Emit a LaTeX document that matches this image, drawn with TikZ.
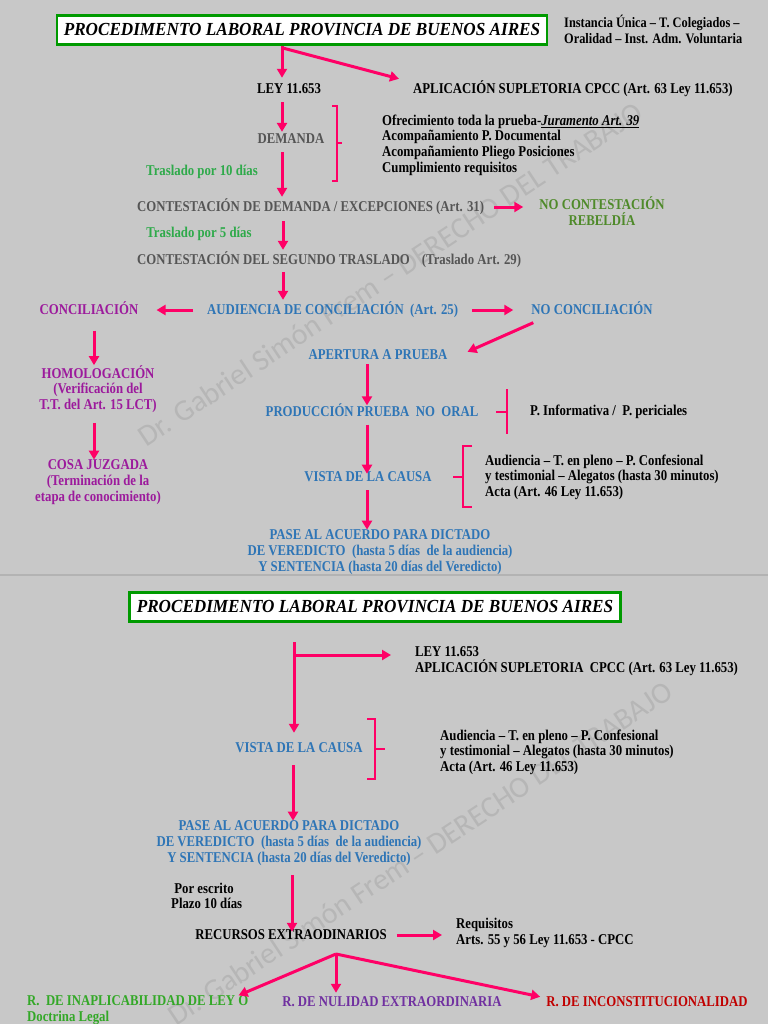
\documentclass[tikz,border=0pt]{standalone}
\usepackage{fontspec}
\setmainfont{Liberation Serif}[FakeStretch=0.855]
\newfontfamily\titlefont{Liberation Serif}[FakeStretch=0.93]
\setsansfont{Carlito}
\usepackage{tikz}
\usetikzlibrary{arrows.meta,positioning,calc}

\definecolor{slidebg}{HTML}{C8C8C8}
\definecolor{arrowpink}{HTML}{FF0066}
\definecolor{boxgreen}{HTML}{009A00}
\definecolor{stepblue}{HTML}{2E75B6}
\definecolor{steppurple}{HTML}{9C1A9C}
\definecolor{stepgray}{HTML}{555555}
\definecolor{daysgreen}{HTML}{2EAA4A}
\definecolor{rebelgreen}{HTML}{4F8A2A}
\definecolor{inapgreen}{HTML}{33A827}
\definecolor{nulpurple}{HTML}{7030A0}
\definecolor{incred}{HTML}{C00000}
\definecolor{wmgray}{HTML}{B6B6B6}
\definecolor{seprule}{HTML}{B3B3B3}

\begin{document}
\begin{tikzpicture}[x=1bp, y=-1bp, >={Triangle[length=9bp,width=10bp]},
  every node/.style={inner sep=2bp, font=\bfseries\fontsize{15}{15.7}\selectfont},
  titlebox/.style={draw=boxgreen, line width=2.6bp, fill=white, minimum width=490bp,
    minimum height=29bp, font=\titlefont\bfseries\itshape\fontsize{18.5}{21}\selectfont},
  flow/.style={->, draw=arrowpink, line width=3bp},
  brk/.style={draw=arrowpink, line width=2.6bp},
  gry/.style={text=stepgray}, blu/.style={text=stepblue},
  pur/.style={text=steppurple}, days/.style={text=daysgreen},
  wmark/.style={text=wmgray, font=\sffamily\fontsize{30}{32}\selectfont, rotate=33.5}]

% ---------------- 1. BACKGROUND ----------------
\fill[slidebg] (0,0) rectangle (768,1024);
\useasboundingbox (0,0) rectangle (768,1024);
\draw[seprule, line width=1.5bp] (0,575) -- (768,575);

% watermarks
\node[wmark] (wm1) at (390,274) {Dr. Gabriel Simón Frem -- DERECHO DEL TRABAJO};
\node[wmark] (wm2) at (420,853) {Dr. Gabriel Simón Frem -- DERECHO DEL TRABAJO};

% ---------------- 2. UPPER SLIDE: MAIN LINE ----------------
\coordinate (spine) at (282,0);
\coordinate (spineb) at (367,0);
\coordinate (spinel) at (94,0);

\node[titlebox] (title1) at (302,30) {PROCEDIMENTO LABORAL PROVINCIA DE BUENOS AIRES};
\node[anchor=west, align=left, font=\bfseries\fontsize{14.5}{16}\selectfont] (inst) at (562,29)
  {Instancia Única -- T. Colegiados --\\Oralidad -- Inst. Adm. Voluntaria};

\node (ley1) at (289,89) {LEY 11.653};
\node[anchor=west] (apl1) at (411,89) {APLICACIÓN SUPLETORIA CPCC (Art. 63 Ley 11.653)};
\draw[flow] (title1.south -| spine) -- ([yshift=4bp]ley1.north -| spine);
\draw[flow] ([yshift=-2bp]title1.south -| spine) -- ([xshift=-12bp]apl1.north west);

\node[gry] (dem1) at (291,139) {DEMANDA};
\draw[flow, shorten <=6bp] (ley1.south -| spine) -- (dem1.north -| spine);

% bracket of the demand
\draw[brk] (332,106) -- (337,106) -- (337,181) -- (332,181);
\draw[brk] (337,143) -- (342,143);
\node[anchor=west, align=left] (ofr) at (380,145)
  {Ofrecimiento toda la prueba-\underline{\textit{Juramento Art. 39}}\\
   Acompañamiento P. Documental\\
   Acompañamiento Pliego Posiciones\\
   Cumplimiento requisitos};

\node[days] (tras10) at (202,172) {Traslado por 10 días};
\node[gry, anchor=west] (cont1) at (135,207) {CONTESTACIÓN DE DEMANDA / EXCEPCIONES (Art. 31)};
\draw[flow, shorten <=6bp] (dem1.south -| spine) -- (cont1.north -| spine);

\node[text=rebelgreen, align=center] (rebel) at (602,211) {NO CONTESTACIÓN\\REBELDÍA};
\draw[flow, shorten <=8bp, shorten >=14bp] (cont1.east) -- (cont1.east -| rebel.west);

\node[days] (tras5) at (199,234) {Traslado por 5 días};
\node[gry, anchor=west] (cont2) at (135,260) {CONTESTACIÓN DEL SEGUNDO TRASLADO\hspace{12bp}(Traslado Art. 29)};
\draw[flow, shorten <=4bp] ([xshift=1bp]cont1.south -| spine) -- ([xshift=1bp]cont2.north -| spine);

% ---------------- 3. CONCILIATION ----------------
\node[blu, anchor=west] (aud) at (205,310) {AUDIENCIA DE CONCILIACIÓN\ \ (Art. 25)};
\draw[flow, shorten <=2bp] ([xshift=1bp]cont2.south -| spine) -- ([xshift=1bp]aud.north -| spine);

\node[pur] (conc) at (89,308) {CONCILIACIÓN};
\draw[flow, shorten <=12bp, shorten >=16bp] (aud.west) -- (aud.west -| conc.east);

\node[blu] (noconc) at (592,308) {NO CONCILIACIÓN};
\draw[flow, shorten <=12bp, shorten >=16bp] (aud.east) -- (aud.east -| noconc.west);

\node[blu] (apert) at (378,355) {APERTURA A PRUEBA};
\draw[flow] ([xshift=4bp,yshift=-6bp]noconc.south west) -- ([xshift=18bp,yshift=-4bp]apert.north east);

\node[pur, align=center] (homol) at (98,389) {HOMOLOGACIÓN\\(Verificación del\\T.T. del Art. 15 LCT)};
\draw[flow, shorten <=14bp] (conc.south -| spinel) -- ([yshift=-2bp]homol.north -| spinel);

\node[pur, align=center] (cosa) at (98,482) {COSA JUZGADA\\(Terminación de la\\etapa de conocimiento)};
\draw[flow, shorten <=8bp] (homol.south -| spinel) -- ([yshift=-2bp]cosa.north -| spinel);

% ---------------- 4. PROOF AND HEARING ----------------
\node[blu] (prod) at (372,410) {PRODUCCIÓN PRUEBA\ \ NO\ \ ORAL};
\draw[flow, shorten <=2bp] (apert.south -| spineb) -- ([yshift=-4bp]prod.north -| spineb);

\draw[brk] (507,389) -- (507,434);
\draw[brk] (507,412) -- (496,412);
\node[anchor=west] (pinf) at (528,412) {P. Informativa /\ \ P. periciales};

\node[blu] (vista1) at (368,477) {VISTA DE LA CAUSA};
\draw[flow, shorten <=6bp] (prod.south -| spineb) -- ([yshift=-4bp]vista1.north -| spineb);

\draw[brk] (472,446) -- (463,446) -- (463,507) -- (472,507);
\draw[brk] (463,477) -- (453,477);
\node[anchor=west, align=left] (aud1) at (483,477)
  {Audiencia -- T. en pleno -- P. Confesional\\
   y testimonial -- Alegatos (hasta 30 minutos)\\
   Acta (Art. 46 Ley 11.653)};

\node[blu, align=center] (pase1) at (380,552)
  {PASE AL ACUERDO PARA DICTADO\\
   DE VEREDICTO\ \ (hasta 5 días\ \ de la audiencia)\\
   Y SENTENCIA (hasta 20 días del Veredicto)};
\draw[flow, shorten <=6bp] (vista1.south -| spineb) -- ([yshift=-2bp]pase1.north -| spineb);

% ---------------- 5. LOWER SLIDE ----------------
\coordinate (start2) at (294,642);
\coordinate (br2) at (294,655);

\node[titlebox, minimum width=491bp] (title2) at (375,607) {PROCEDIMENTO LABORAL PROVINCIA DE BUENOS AIRES};

\node[anchor=west, align=left] (ley2) at (413,661)
  {LEY 11.653\\APLICACIÓN SUPLETORIA\ \ CPCC (Art. 63 Ley 11.653)};
\draw[flow, shorten >=22bp] (br2) -- (br2 -| ley2.west);

\node[blu] (vista2) at (299,748) {VISTA DE LA CAUSA};
\draw[flow, shorten >=8bp] (start2) -- (start2 |- vista2.north);

\draw[brk] (367,719) -- (375,719) -- (375,779) -- (367,779);
\draw[brk] (375,749) -- (385,749);
\node[anchor=west, align=left] (aud2) at (438,752)
  {Audiencia -- T. en pleno -- P. Confesional\\
   y testimonial -- Alegatos (hasta 30 minutos)\\
   Acta (Art. 46 Ley 11.653)};

\node[blu, align=center] (pase2) at (289,843)
  {PASE AL ACUERDO PARA DICTADO\\
   DE VEREDICTO\ \ (hasta 5 días\ \ de la audiencia)\\
   Y SENTENCIA (hasta 20 días del Veredicto)};
\draw[flow, shorten <=10bp] ([xshift=-1bp]vista2.south -| start2) -- ([xshift=-1bp,yshift=-2bp]pase2.north -| start2);

\node[anchor=west, align=left] (escrito) at (169,896) {\ Por escrito\\Plazo\ 10 días};

\node (recursos) at (291,935) {RECURSOS EXTRAODINARIOS};
\draw[flow, shorten <=8bp] ([xshift=-2bp]pase2.south -| start2) -- ([xshift=-2bp,yshift=-4bp]recursos.north -| start2);

\node[anchor=west, align=left] (req) at (454,933) {Requisitos\\Arts. 55 y 56 Ley 11.653 - CPCC};
\draw[flow, shorten <=8bp, shorten >=12bp] (recursos.east) -- (recursos.east -| req.west);

% ---------------- 6. EXTRAORDINARY APPEALS ----------------
\coordinate (br3) at (336,954);
\node[text=inapgreen, anchor=west, align=left] (inap) at (25,1010) {R.\ \ DE INAPLICABILIDAD DE LEY O\\Doctrina Legal};
\node[text=nulpurple] (nul) at (392,1002) {R. DE NULIDAD EXTRAORDINARIA};
\node[text=incred] (inc) at (647,1002) {R. DE INCONSTITUCIONALIDAD};

\draw[flow] (br3) -- ([xshift=-12bp,yshift=-2bp]inap.north east);
\draw[flow] (br3) -- ([yshift=2bp]br3 |- nul.north);
\draw[flow] (br3) -- ([xshift=-4bp,yshift=-2bp]inc.north west);

\end{tikzpicture}
\end{document}
